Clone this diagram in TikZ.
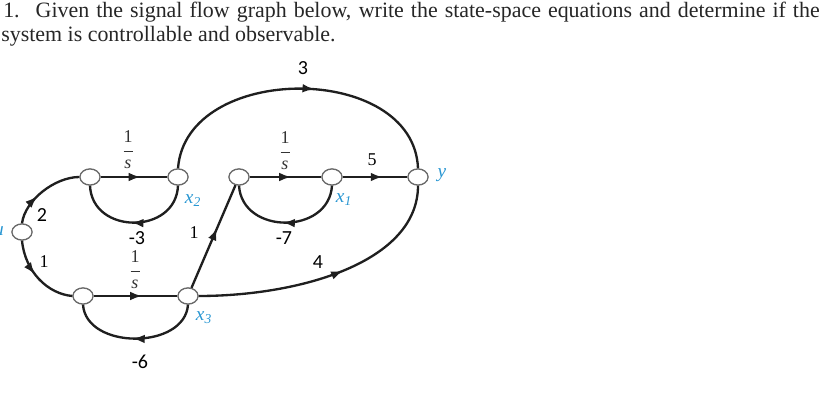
\documentclass[tikz,border=0pt]{standalone}
\usepackage{fontspec}
\setmainfont{Liberation Serif}
\newfontfamily\lblsans{Carlito}
\usetikzlibrary{arrows.meta,decorations.markings,shapes.geometric}
\definecolor{lblblue}{RGB}{40,150,210}
\definecolor{nodegray}{RGB}{105,105,105}
\newcommand\oneovers{$\displaystyle\frac{\mbox{1}}{\mbox{\itshape s}}$}
\begin{document}
\begin{tikzpicture}[x=0.75pt,y=-0.75pt,
  sfg/.style={ellipse,draw=nodegray,line width=0.9pt,fill=white,minimum width=15pt,minimum height=12pt,inner sep=0pt},
  br/.style={line width=1.75pt,black!88},
  midarrow/.style={postaction={decorate},decoration={markings,mark=at position #1 with {\arrow{Latex[length=9pt,width=6.5pt]}}}},
  sansnum/.style={font=\lblsans\fontsize{15}{17}\selectfont,inner sep=0pt},
  sernum/.style={font=\fontsize{13.5}{15}\selectfont,inner sep=0pt},
  frac/.style={font=\fontsize{13.5}{15}\selectfont,inner sep=0pt,text=black!80},
  statelbl/.style={font=\fontsize{14.5}{17}\selectfont\itshape,text=lblblue,inner sep=0pt},
  title/.style={font=\fontsize{16.45}{18}\selectfont,anchor=base west,inner sep=0pt,text=black!85}
]
\useasboundingbox (0,0) rectangle (833,417);

% title
\node[title] (t1) at (3,18) {1.\hspace{12pt}\makebox[588pt][s]{Given the signal flow graph below, write the state-space equations and determine if the}};
\node[title] (t2) at (1,42) {system is controllable and observable.};

% nodes
\node[sfg] (u) at (22,232) {};
\node[sfg] (A) at (90,177) {};
\node[sfg] (x2) at (178,177) {};
\node[sfg] (C) at (239,177) {};
\node[sfg] (x1) at (332,177) {};
\node[sfg] (y) at (418,177) {};
\node[sfg] (B) at (83,296) {};
\node[sfg] (x3) at (188,296) {};

% branches
\draw[br,midarrow=0.4] (u.north) .. controls (25,200) and (55,177) .. (A.west);
\draw[br,midarrow=0.45] (u.south) .. controls (25,272) and (48,294) .. (B.west);
\draw[br,midarrow=0.6] (A) -- (x2);
\draw[br,midarrow=0.52] (x2.south) .. controls (176,235) and (92,235) .. (A.south);
\draw[br,midarrow=0.55] (x2.north) .. controls (186,62) and (414,62) .. (y.north);
\draw[br,midarrow=0.58] (C) -- (x1);
\draw[br,midarrow=0.62] (x1) -- (y);
\draw[br,midarrow=0.52] (x1.south) .. controls (329,235) and (242,235) .. (C.south);
\draw[br,midarrow=0.58] (x3) -- (C);
\draw[br,midarrow=0.58] (B) -- (x3);
\draw[br,midarrow=0.52] (x3.south) .. controls (185,350) and (86,350) .. (B.south);
\draw[br,midarrow=0.55] (x3.east) .. controls (300,296) and (418,262) .. (y.south);

% redraw nodes on top
\node[sfg] at (u) {};
\node[sfg] at (A) {};
\node[sfg] at (x2) {};
\node[sfg] at (C) {};
\node[sfg] at (x1) {};
\node[sfg] at (y) {};
\node[sfg] at (B) {};
\node[sfg] at (x3) {};

% gains
\node[sansnum] (g3) at (303,68) {3};
\node[sansnum] (g2) at (42,215) {2};
\node[sansnum] (gm3) at (137,238) {-3};
\node[sansnum] (gm7) at (284,238) {-7};
\node[sansnum] (g4) at (318,262) {4};
\node[sansnum] (gm6) at (140,362) {-6};
\node[sernum] (g1a) at (44,262) {1};
\node[sernum] (g1b) at (194,233) {1};
\node[sernum] (g5) at (372,160) {5};
\node[frac] (f1) at (128,150) {\oneovers};
\node[frac] (f2) at (285,151) {\oneovers};
\node[frac] (f3) at (135,270) {\oneovers};

% state labels
\node[statelbl] (lx2) at (193,201) {x\textsubscript{2}};
\node[statelbl] (lx1) at (344,200) {x\textsubscript{1}};
\node[statelbl] (lx3) at (204,318) {x\textsubscript{3}};
\node[statelbl] (ly) at (442,175) {y};
\node[statelbl,anchor=east] (lu) at (4,231) {u};
\end{tikzpicture}
\end{document}
